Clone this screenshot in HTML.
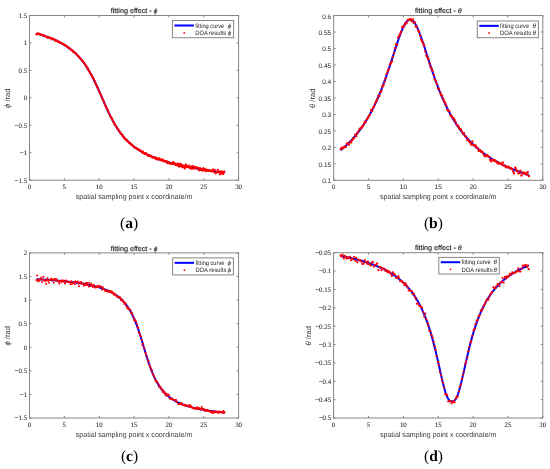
<!DOCTYPE html>
<html><head><meta charset="utf-8"><style>
html,body{margin:0;padding:0;background:#fff;}
svg{display:block;}
text{font-family:"Liberation Sans",Arial,sans-serif;fill:#262626;text-rendering:geometricPrecision;}
.tk{font-family:"Liberation Serif","Times New Roman",serif;font-size:6.9px;fill:#222;stroke:#222;stroke-width:0.06px;}
.tks{font-size:6.6px;fill:#262626;}
.ti{font-size:7.2px;fill:#1e1e1e;stroke:#1e1e1e;stroke-width:0.15px;}
.sy{font-size:6.6px;}
.xl{font-size:7.3px;fill:#3a3a3a;}
.yl{font-size:7.6px;}
.lg{font-size:6.3px;fill:#222;}
.it{font-style:italic;}
.cap{font-family:"Liberation Serif","Times New Roman",serif;font-size:15.5px;fill:#000;}
</style></head><body>
<svg width="550" height="469" viewBox="0 0 550 469">
<rect width="550" height="469" fill="#fff"/>
<g>
<g><path d="M36.47 33.44 L36.94 33.57 L37.41 33.71 L37.88 33.84 L38.36 33.98 L38.83 34.12 L39.30 34.26 L39.77 34.41 L40.24 34.55 L40.71 34.70 L41.19 34.85 L41.66 34.99 L42.13 35.15 L42.60 35.30 L43.07 35.45 L43.54 35.61 L44.02 35.77 L44.49 35.92 L44.96 36.09 L45.43 36.25 L45.90 36.41 L46.37 36.58 L46.85 36.75 L47.32 36.92 L47.79 37.09 L48.26 37.27 L48.73 37.44 L49.20 37.62 L49.68 37.81 L50.15 37.99 L50.62 38.18 L51.09 38.36 L51.56 38.56 L52.03 38.75 L52.51 38.95 L52.98 39.14 L53.45 39.35 L53.92 39.55 L54.39 39.76 L54.86 39.97 L55.34 40.18 L55.81 40.40 L56.28 40.62 L56.75 40.84 L57.22 41.06 L57.69 41.29 L58.17 41.52 L58.64 41.76 L59.11 42.00 L59.58 42.24 L60.05 42.49 L60.52 42.74 L61.00 42.99 L61.47 43.25 L61.94 43.51 L62.41 43.78 L62.88 44.05 L63.35 44.33 L63.83 44.61 L64.30 44.89 L64.77 45.18 L65.24 45.48 L65.71 45.78 L66.18 46.08 L66.66 46.39 L67.13 46.71 L67.60 47.03 L68.07 47.36 L68.54 47.69 L69.01 48.03 L69.49 48.37 L69.96 48.73 L70.43 49.08 L70.90 49.45 L71.37 49.82 L71.84 50.20 L72.32 50.59 L72.79 50.98 L73.26 51.38 L73.73 51.79 L74.20 52.21 L74.67 52.63 L75.15 53.07 L75.62 53.51 L76.09 53.96 L76.56 54.42 L77.03 54.89 L77.50 55.37 L77.98 55.86 L78.45 56.36 L78.92 56.87 L79.39 57.40 L79.86 57.93 L80.33 58.47 L80.81 59.03 L81.28 59.59 L81.75 60.17 L82.22 60.76 L82.69 61.37 L83.16 61.98 L83.64 62.61 L84.11 63.25 L84.58 63.91 L85.05 64.58 L85.52 65.26 L85.99 65.96 L86.47 66.67 L86.94 67.40 L87.41 68.14 L87.88 68.89 L88.35 69.66 L88.82 70.45 L89.30 71.25 L89.77 72.06 L90.24 72.89 L90.71 73.74 L91.18 74.60 L91.65 75.48 L92.13 76.37 L92.60 77.27 L93.07 78.19 L93.54 79.13 L94.01 80.08 L94.48 81.04 L94.96 82.01 L95.43 83.00 L95.90 84.00 L96.37 85.01 L96.84 86.03 L97.31 87.06 L97.79 88.11 L98.26 89.16 L98.73 90.21 L99.20 91.28 L99.67 92.35 L100.14 93.42 L100.61 94.50 L101.09 95.59 L101.56 96.67 L102.03 97.76 L102.50 98.84 L102.97 99.93 L103.44 101.01 L103.92 102.09 L104.39 103.16 L104.86 104.23 L105.33 105.30 L105.80 106.35 L106.27 107.40 L106.75 108.44 L107.22 109.47 L107.69 110.50 L108.16 111.51 L108.63 112.50 L109.10 113.49 L109.58 114.46 L110.05 115.43 L110.52 116.37 L110.99 117.31 L111.46 118.23 L111.93 119.13 L112.41 120.02 L112.88 120.90 L113.35 121.76 L113.82 122.60 L114.29 123.43 L114.76 124.25 L115.24 125.05 L115.71 125.83 L116.18 126.60 L116.65 127.35 L117.12 128.09 L117.59 128.82 L118.07 129.53 L118.54 130.23 L119.01 130.91 L119.48 131.58 L119.95 132.23 L120.42 132.87 L120.90 133.50 L121.37 134.12 L121.84 134.72 L122.31 135.31 L122.78 135.89 L123.25 136.45 L123.73 137.01 L124.20 137.55 L124.67 138.08 L125.14 138.60 L125.61 139.11 L126.08 139.61 L126.56 140.10 L127.03 140.58 L127.50 141.05 L127.97 141.51 L128.44 141.96 L128.91 142.41 L129.39 142.84 L129.86 143.26 L130.33 143.68 L130.80 144.09 L131.27 144.49 L131.74 144.88 L132.22 145.27 L132.69 145.65 L133.16 146.02 L133.63 146.38 L134.10 146.74 L134.57 147.09 L135.05 147.44 L135.52 147.78 L135.99 148.11 L136.46 148.44 L136.93 148.76 L137.40 149.07 L137.88 149.38 L138.35 149.69 L138.82 149.99 L139.29 150.28 L139.76 150.57 L140.23 150.85 L140.71 151.13 L141.18 151.41 L141.65 151.68 L142.12 151.95 L142.59 152.21 L143.06 152.47 L143.54 152.72 L144.01 152.97 L144.48 153.22 L144.95 153.46 L145.42 153.70 L145.89 153.94 L146.37 154.17 L146.84 154.40 L147.31 154.62 L147.78 154.84 L148.25 155.06 L148.72 155.28 L149.20 155.49 L149.67 155.70 L150.14 155.91 L150.61 156.11 L151.08 156.31 L151.55 156.51 L152.03 156.71 L152.50 156.90 L152.97 157.09 L153.44 157.28 L153.91 157.47 L154.38 157.65 L154.86 157.83 L155.33 158.01 L155.80 158.19 L156.27 158.36 L156.74 158.54 L157.21 158.71 L157.69 158.88 L158.16 159.04 L158.63 159.21 L159.10 159.37 L159.57 159.53 L160.04 159.69 L160.52 159.85 L160.99 160.00 L161.46 160.16 L161.93 160.31 L162.40 160.46 L162.87 160.61 L163.34 160.76 L163.82 160.90 L164.29 161.05 L164.76 161.19 L165.23 161.33 L165.70 161.47 L166.17 161.61 L166.65 161.75 L167.12 161.88 L167.59 162.02 L168.06 162.15 L168.53 162.28 L169.00 162.41 L169.48 162.54 L169.95 162.67 L170.42 162.80 L170.89 162.92 L171.36 163.05 L171.83 163.17 L172.31 163.29 L172.78 163.42 L173.25 163.54 L173.72 163.66 L174.19 163.77 L174.66 163.89 L175.14 164.01 L175.61 164.12 L176.08 164.24 L176.55 164.35 L177.02 164.46 L177.49 164.58 L177.97 164.69 L178.44 164.80 L178.91 164.90 L179.38 165.01 L179.85 165.12 L180.32 165.23 L180.80 165.33 L181.27 165.44 L181.74 165.54 L182.21 165.64 L182.68 165.75 L183.15 165.85 L183.63 165.95 L184.10 166.05 L184.57 166.15 L185.04 166.25 L185.51 166.35 L185.98 166.45 L186.46 166.54 L186.93 166.64 L187.40 166.73 L187.87 166.83 L188.34 166.92 L188.81 167.02 L189.29 167.11 L189.76 167.20 L190.23 167.29 L190.70 167.39 L191.17 167.48 L191.64 167.57 L192.12 167.66 L192.59 167.75 L193.06 167.83 L193.53 167.92 L194.00 168.01 L194.47 168.10 L194.95 168.18 L195.42 168.27 L195.89 168.35 L196.36 168.44 L196.83 168.52 L197.30 168.61 L197.78 168.69 L198.25 168.77 L198.72 168.86 L199.19 168.94 L199.66 169.02 L200.13 169.10 L200.61 169.18 L201.08 169.26 L201.55 169.34 L202.02 169.42 L202.49 169.50 L202.96 169.58 L203.44 169.66 L203.91 169.74 L204.38 169.81 L204.85 169.89 L205.32 169.97 L205.79 170.05 L206.27 170.12 L206.74 170.20 L207.21 170.27 L207.68 170.35 L208.15 170.42 L208.62 170.50 L209.10 170.57 L209.57 170.64 L210.04 170.72 L210.51 170.79 L210.98 170.86 L211.45 170.94 L211.93 171.01 L212.40 171.08 L212.87 171.15 L213.34 171.22 L213.81 171.29 L214.28 171.36 L214.76 171.43 L215.23 171.50 L215.70 171.57 L216.17 171.64 L216.64 171.71 L217.11 171.78 L217.59 171.85 L218.06 171.92 L218.53 171.98 L219.00 172.05 L219.47 172.12 L219.94 172.19 L220.42 172.25 L220.89 172.32 L221.36 172.39 L221.83 172.45 L222.30 172.52 L222.77 172.58 L223.25 172.65 L223.72 172.71 L224.19 172.78 L224.66 172.84" fill="none" stroke="#0000ff" stroke-width="2.00" stroke-linejoin="round"/>
<path d="M36.37 34.32h0M37.03 33.64h0M37.61 34.05h0M38.01 33.68h0M38.60 34.11h0M39.38 33.65h0M39.70 34.08h0M40.27 34.27h0M41.06 34.74h0M41.52 34.97h0M42.01 34.99h0M42.61 34.87h0M43.21 35.32h0M43.66 35.76h0M44.18 35.40h0M44.91 36.01h0M45.44 36.28h0M45.95 36.69h0M46.60 36.85h0M47.08 37.04h0M47.76 38.00h0M48.10 36.87h0M48.75 37.27h0M49.29 37.73h0M49.81 37.51h0M50.44 37.96h0M50.89 38.16h0M51.61 39.39h0M52.19 38.89h0M52.54 38.78h0M53.19 38.70h0M53.69 38.84h0M54.20 39.20h0M54.98 40.40h0M55.41 40.94h0M55.89 40.25h0M56.59 40.75h0M57.02 40.65h0M57.77 41.37h0M58.14 41.44h0M58.64 42.26h0M59.25 41.92h0M59.85 42.53h0M60.44 42.58h0M61.12 42.91h0M61.62 43.37h0M62.07 43.49h0M62.54 43.86h0M63.14 43.95h0M63.93 44.51h0M64.34 45.10h0M64.96 45.50h0M65.34 44.97h0M65.89 45.93h0M66.68 46.08h0M67.16 46.60h0M67.64 47.24h0M68.20 47.70h0M68.70 47.76h0M69.28 48.14h0M69.79 48.40h0M70.58 49.62h0M71.03 49.75h0M71.49 49.95h0M72.22 49.98h0M72.63 51.62h0M73.15 51.14h0M73.86 52.08h0M74.50 52.33h0M74.81 52.92h0M75.59 53.36h0M75.97 53.33h0M76.50 54.25h0M77.04 54.76h0M77.67 55.43h0M78.35 56.51h0M78.85 56.62h0M79.50 57.59h0M79.88 58.22h0M80.47 58.64h0M81.01 59.35h0M81.77 59.95h0M82.32 60.90h0M82.71 61.56h0M83.29 61.67h0M83.81 62.53h0M84.49 63.37h0M84.85 64.09h0M85.42 65.15h0M86.07 66.21h0M86.58 66.94h0M87.31 67.66h0M87.84 68.78h0M88.34 70.13h0M88.93 70.64h0M89.50 72.06h0M90.08 72.56h0M90.68 74.08h0M91.02 74.72h0M91.71 75.54h0M92.13 76.41h0M92.77 78.17h0M93.43 78.65h0M94.01 79.36h0M94.53 81.63h0M94.89 81.27h0M95.54 83.46h0M96.04 84.47h0M96.83 86.07h0M97.15 87.19h0M97.73 87.56h0M98.32 89.14h0M98.80 90.62h0M99.58 92.24h0M100.07 93.77h0M100.50 94.35h0M101.15 95.42h0M101.59 97.32h0M102.30 98.52h0M102.75 99.36h0M103.25 100.22h0M103.83 101.44h0M104.51 103.60h0M105.09 105.01h0M105.56 105.66h0M106.21 107.38h0M106.69 108.42h0M107.18 109.03h0M107.79 110.14h0M108.37 111.86h0M109.07 113.49h0M109.41 113.92h0M109.96 115.89h0M110.65 116.63h0M111.32 118.31h0M111.86 118.16h0M112.36 119.68h0M112.74 120.59h0M113.50 122.10h0M114.03 123.84h0M114.43 123.43h0M115.08 124.21h0M115.52 125.78h0M116.29 126.54h0M116.83 127.37h0M117.41 129.08h0M117.95 129.03h0M118.37 129.50h0M119.08 130.92h0M119.48 131.60h0M120.01 132.02h0M120.64 133.72h0M121.22 133.90h0M121.72 134.18h0M122.37 135.84h0M122.93 135.69h0M123.38 136.76h0M124.05 138.16h0M124.53 137.97h0M125.19 139.03h0M125.63 139.01h0M126.33 140.32h0M126.78 139.92h0M127.37 141.22h0M127.96 141.36h0M128.48 142.23h0M128.96 142.58h0M129.72 142.66h0M130.03 143.33h0M130.66 144.13h0M131.28 145.02h0M131.69 144.35h0M132.28 145.01h0M133.02 146.05h0M133.57 146.23h0M134.09 147.18h0M134.72 147.65h0M135.24 147.95h0M135.67 147.72h0M136.32 148.20h0M136.79 149.01h0M137.47 148.77h0M137.92 149.04h0M138.41 149.65h0M139.17 149.70h0M139.68 150.66h0M140.25 150.92h0M140.76 150.93h0M141.38 151.54h0M141.84 151.38h0M142.43 152.78h0M142.85 151.60h0M143.54 153.15h0M144.17 153.15h0M144.70 154.09h0M145.29 153.30h0M145.76 153.15h0M146.42 153.58h0M146.77 153.88h0M147.54 155.64h0M147.95 155.39h0M148.43 155.42h0M149.14 156.03h0M149.65 155.00h0M150.20 155.82h0M150.88 156.24h0M151.23 156.07h0M151.93 157.28h0M152.43 157.46h0M153.02 157.69h0M153.57 157.00h0M154.02 157.28h0M154.68 157.38h0M155.34 157.28h0M155.70 159.08h0M156.22 158.73h0M156.79 158.45h0M157.46 159.75h0M158.16 159.42h0M158.46 158.42h0M159.28 158.63h0M159.71 158.80h0M160.15 159.69h0M160.79 160.10h0M161.29 159.30h0M161.99 160.61h0M162.50 160.24h0M162.99 159.64h0M163.53 161.09h0M164.26 161.51h0M164.79 161.21h0M165.26 160.88h0M165.81 161.13h0M166.46 161.57h0M167.08 161.44h0M167.39 163.22h0M167.97 162.80h0M168.58 162.17h0M169.18 163.20h0M169.62 163.65h0M170.17 163.70h0M170.77 163.63h0M171.38 163.20h0M172.03 164.05h0M172.56 163.17h0M172.95 162.08h0M173.51 163.72h0M174.18 162.73h0M174.86 163.70h0M175.43 165.00h0M175.83 164.39h0M176.54 165.16h0M177.10 163.85h0M177.52 165.53h0M178.17 163.64h0M178.62 164.36h0M179.12 166.63h0M179.79 164.45h0M180.22 163.91h0M180.93 166.02h0M181.53 164.67h0M182.12 167.13h0M182.55 165.51h0M183.01 167.21h0M183.79 165.58h0M184.34 167.60h0M184.92 168.44h0M185.38 165.99h0M185.96 164.51h0M186.43 167.04h0M186.93 165.94h0M187.52 166.66h0M188.20 167.17h0M188.65 166.46h0M189.31 165.72h0M189.81 168.26h0M190.35 166.84h0M191.06 167.16h0M191.39 168.73h0M192.04 166.27h0M192.50 166.07h0M193.28 168.68h0M193.71 166.48h0M194.22 168.00h0M194.74 168.28h0M195.41 166.99h0M195.92 168.17h0M196.40 168.17h0M196.93 167.25h0M197.59 167.56h0M198.20 168.00h0M198.74 170.05h0M199.40 170.32h0M199.96 168.11h0M200.53 169.96h0M201.05 169.13h0M201.51 170.25h0M202.08 169.59h0M202.61 170.61h0M203.16 168.22h0M203.62 170.56h0M204.39 169.92h0M204.79 170.04h0M205.29 168.93h0M205.97 171.29h0M206.60 170.20h0M207.08 170.43h0M207.62 169.88h0M208.25 170.04h0M208.67 170.90h0M209.19 170.38h0M209.91 171.02h0M210.45 170.38h0M211.10 170.97h0M211.53 171.51h0M212.19 171.07h0M212.54 170.79h0M213.10 169.25h0M213.81 171.71h0M214.27 171.10h0M214.78 170.19h0M215.36 173.30h0M215.98 173.11h0M216.53 172.71h0M217.15 171.88h0M217.80 169.79h0M218.21 171.60h0M218.72 170.98h0M219.38 172.30h0M219.78 174.27h0M220.45 174.24h0M220.98 171.46h0M221.56 172.26h0M222.03 173.59h0M222.72 171.62h0M223.30 173.97h0M223.89 171.77h0M224.51 171.58h0" stroke="#ff0000" stroke-width="2.20" stroke-linecap="round"/>
<rect x="29.50" y="15.50" width="209.10" height="164.70" fill="none" stroke="#858585" stroke-width="1.00"/>
<path d="M29.50 180.20v-2.00M29.50 15.50v2.00M64.35 180.20v-2.00M64.35 15.50v2.00M99.20 180.20v-2.00M99.20 15.50v2.00M134.05 180.20v-2.00M134.05 15.50v2.00M168.90 180.20v-2.00M168.90 15.50v2.00M203.75 180.20v-2.00M203.75 15.50v2.00M238.60 180.20v-2.00M238.60 15.50v2.00M29.50 180.20h2.00M238.60 180.20h-2.00M29.50 152.75h2.00M238.60 152.75h-2.00M29.50 125.30h2.00M238.60 125.30h-2.00M29.50 97.85h2.00M238.60 97.85h-2.00M29.50 70.40h2.00M238.60 70.40h-2.00M29.50 42.95h2.00M238.60 42.95h-2.00M29.50 15.50h2.00M238.60 15.50h-2.00" stroke="#858585" stroke-width="1.00" fill="none"/>
<text class="tk" x="29.50" y="189.30" text-anchor="middle">0</text>
<text class="tk" x="64.35" y="189.30" text-anchor="middle">5</text>
<text class="tk" x="99.20" y="189.30" text-anchor="middle">10</text>
<text class="tk" x="134.05" y="189.30" text-anchor="middle">15</text>
<text class="tk" x="168.90" y="189.30" text-anchor="middle">20</text>
<text class="tk" x="203.75" y="189.30" text-anchor="middle">25</text>
<text class="tk" x="238.60" y="189.30" text-anchor="middle">30</text>
<text class="tk" x="27.10" y="182.60" text-anchor="end">−1.5</text>
<text class="tk" x="27.10" y="155.15" text-anchor="end">−1</text>
<text class="tk" x="27.10" y="127.70" text-anchor="end">−0.5</text>
<text class="tk" x="27.10" y="100.25" text-anchor="end">0</text>
<text class="tk" x="27.10" y="72.80" text-anchor="end">0.5</text>
<text class="tk" x="27.10" y="45.35" text-anchor="end">1</text>
<text class="tk" x="27.10" y="17.90" text-anchor="end">1.5</text>
<text class="ti" x="134.05" y="13.10" text-anchor="middle">fitting effect - <tspan class="it sy">ϕ</tspan></text>
<text class="xl" x="134.05" y="199.20" text-anchor="middle" textLength="116.5" lengthAdjust="spacingAndGlyphs">spatial sampling point x coordinate/m</text>
<text class="xl yl" transform="translate(10.10 98.25) rotate(-90)" text-anchor="middle"><tspan class="it">ϕ</tspan> /rad</text>
<rect x="172.40" y="20.50" width="61.20" height="17.20" fill="#fff" stroke="#858585" stroke-width="1.00"/>
<path d="M174.40 25.49H193.90" stroke="#0000ff" stroke-width="2.00"/>
<circle cx="184.20" cy="32.88" r="0.90" fill="#ff0000"/>
<text class="lg" x="195.20" y="27.69" textLength="29" lengthAdjust="spacingAndGlyphs">fitting curve</text>
<text class="lg" x="195.20" y="35.08" textLength="31" lengthAdjust="spacingAndGlyphs">DOA results</text>
<text class="lg it" x="229.40" y="27.69" text-anchor="middle">ϕ</text>
<text class="lg it" x="229.40" y="35.08" text-anchor="middle">ϕ</text>
<text class="cap" x="129.10" y="227.60" text-anchor="middle">(<tspan font-weight="bold">a</tspan>)</text></g>
<g><path d="M340.67 150.18 L341.14 149.80 L341.61 149.41 L342.08 149.02 L342.56 148.62 L343.03 148.21 L343.50 147.81 L343.97 147.40 L344.44 146.98 L344.91 146.56 L345.39 146.13 L345.86 145.70 L346.33 145.26 L346.80 144.82 L347.27 144.37 L347.74 143.91 L348.22 143.46 L348.69 142.99 L349.16 142.52 L349.63 142.04 L350.10 141.56 L350.57 141.07 L351.05 140.58 L351.52 140.08 L351.99 139.57 L352.46 139.06 L352.93 138.54 L353.40 138.01 L353.88 137.48 L354.35 136.93 L354.82 136.39 L355.29 135.83 L355.76 135.27 L356.23 134.70 L356.71 134.12 L357.18 133.54 L357.65 132.95 L358.12 132.35 L358.59 131.74 L359.06 131.12 L359.54 130.50 L360.01 129.86 L360.48 129.22 L360.95 128.57 L361.42 127.91 L361.89 127.24 L362.37 126.56 L362.84 125.87 L363.31 125.18 L363.78 124.47 L364.25 123.75 L364.72 123.02 L365.20 122.29 L365.67 121.54 L366.14 120.78 L366.61 120.01 L367.08 119.23 L367.55 118.44 L368.03 117.64 L368.50 116.82 L368.97 116.00 L369.44 115.16 L369.91 114.31 L370.38 113.45 L370.86 112.58 L371.33 111.69 L371.80 110.79 L372.27 109.88 L372.74 108.95 L373.21 108.02 L373.69 107.06 L374.16 106.10 L374.63 105.12 L375.10 104.13 L375.57 103.12 L376.04 102.10 L376.52 101.06 L376.99 100.01 L377.46 98.95 L377.93 97.87 L378.40 96.78 L378.87 95.67 L379.35 94.54 L379.82 93.40 L380.29 92.25 L380.76 91.08 L381.23 89.89 L381.70 88.69 L382.18 87.48 L382.65 86.25 L383.12 85.00 L383.59 83.74 L384.06 82.47 L384.53 81.18 L385.01 79.88 L385.48 78.56 L385.95 77.22 L386.42 75.88 L386.89 74.52 L387.36 73.15 L387.84 71.76 L388.31 70.37 L388.78 68.96 L389.25 67.54 L389.72 66.12 L390.19 64.68 L390.67 63.24 L391.14 61.79 L391.61 60.33 L392.08 58.87 L392.55 57.40 L393.02 55.93 L393.50 54.47 L393.97 53.00 L394.44 51.53 L394.91 50.07 L395.38 48.61 L395.85 47.17 L396.33 45.73 L396.80 44.30 L397.27 42.89 L397.74 41.49 L398.21 40.11 L398.68 38.76 L399.16 37.42 L399.63 36.12 L400.10 34.84 L400.57 33.60 L401.04 32.39 L401.51 31.22 L401.99 30.09 L402.46 29.00 L402.93 27.96 L403.40 26.97 L403.87 26.03 L404.34 25.14 L404.81 24.32 L405.29 23.55 L405.76 22.85 L406.23 22.21 L406.70 21.64 L407.17 21.13 L407.64 20.70 L408.12 20.34 L408.59 20.05 L409.06 19.84 L409.53 19.70 L410.00 19.63 L410.47 19.65 L410.95 19.73 L411.42 19.90 L411.89 20.14 L412.36 20.45 L412.83 20.83 L413.30 21.29 L413.78 21.82 L414.25 22.41 L414.72 23.07 L415.19 23.80 L415.66 24.58 L416.13 25.43 L416.61 26.33 L417.08 27.29 L417.55 28.30 L418.02 29.35 L418.49 30.46 L418.96 31.60 L419.44 32.78 L419.91 34.01 L420.38 35.26 L420.85 36.55 L421.32 37.86 L421.79 39.20 L422.27 40.57 L422.74 41.95 L423.21 43.35 L423.68 44.77 L424.15 46.20 L424.62 47.64 L425.10 49.10 L425.57 50.55 L426.04 52.02 L426.51 53.48 L426.98 54.95 L427.45 56.42 L427.93 57.89 L428.40 59.35 L428.87 60.81 L429.34 62.27 L429.81 63.72 L430.28 65.16 L430.76 66.59 L431.23 68.01 L431.70 69.43 L432.17 70.83 L432.64 72.22 L433.11 73.60 L433.59 74.97 L434.06 76.33 L434.53 77.67 L435.00 78.99 L435.47 80.31 L435.94 81.61 L436.42 82.89 L436.89 84.16 L437.36 85.42 L437.83 86.66 L438.30 87.88 L438.77 89.09 L439.25 90.29 L439.72 91.47 L440.19 92.63 L440.66 93.78 L441.13 94.92 L441.60 96.04 L442.08 97.14 L442.55 98.23 L443.02 99.30 L443.49 100.36 L443.96 101.41 L444.43 102.44 L444.91 103.46 L445.38 104.46 L445.85 105.45 L446.32 106.42 L446.79 107.38 L447.26 108.33 L447.74 109.26 L448.21 110.18 L448.68 111.09 L449.15 111.99 L449.62 112.87 L450.09 113.74 L450.57 114.59 L451.04 115.44 L451.51 116.27 L451.98 117.09 L452.45 117.90 L452.92 118.70 L453.40 119.49 L453.87 120.27 L454.34 121.03 L454.81 121.79 L455.28 122.53 L455.75 123.27 L456.23 123.99 L456.70 124.70 L457.17 125.41 L457.64 126.10 L458.11 126.79 L458.58 127.46 L459.06 128.13 L459.53 128.78 L460.00 129.43 L460.47 130.07 L460.94 130.70 L461.41 131.33 L461.89 131.94 L462.36 132.55 L462.83 133.14 L463.30 133.73 L463.77 134.32 L464.24 134.89 L464.72 135.46 L465.19 136.02 L465.66 136.57 L466.13 137.11 L466.60 137.65 L467.07 138.18 L467.54 138.71 L468.02 139.23 L468.49 139.74 L468.96 140.24 L469.43 140.74 L469.90 141.24 L470.37 141.72 L470.85 142.20 L471.32 142.68 L471.79 143.15 L472.26 143.61 L472.73 144.07 L473.20 144.52 L473.68 144.96 L474.15 145.40 L474.62 145.84 L475.09 146.27 L475.56 146.70 L476.03 147.12 L476.51 147.53 L476.98 147.94 L477.45 148.35 L477.92 148.75 L478.39 149.15 L478.86 149.54 L479.34 149.93 L479.81 150.31 L480.28 150.69 L480.75 151.06 L481.22 151.43 L481.69 151.80 L482.17 152.16 L482.64 152.52 L483.11 152.87 L483.58 153.22 L484.05 153.57 L484.52 153.91 L485.00 154.25 L485.47 154.59 L485.94 154.92 L486.41 155.25 L486.88 155.57 L487.35 155.89 L487.83 156.21 L488.30 156.53 L488.77 156.84 L489.24 157.14 L489.71 157.45 L490.18 157.75 L490.66 158.05 L491.13 158.34 L491.60 158.64 L492.07 158.93 L492.54 159.21 L493.01 159.50 L493.49 159.78 L493.96 160.06 L494.43 160.33 L494.90 160.60 L495.37 160.87 L495.84 161.14 L496.32 161.41 L496.79 161.67 L497.26 161.93 L497.73 162.18 L498.20 162.44 L498.67 162.69 L499.15 162.94 L499.62 163.19 L500.09 163.43 L500.56 163.68 L501.03 163.92 L501.50 164.15 L501.98 164.39 L502.45 164.62 L502.92 164.86 L503.39 165.09 L503.86 165.31 L504.33 165.54 L504.81 165.76 L505.28 165.98 L505.75 166.20 L506.22 166.42 L506.69 166.64 L507.16 166.85 L507.64 167.06 L508.11 167.27 L508.58 167.48 L509.05 167.68 L509.52 167.89 L509.99 168.09 L510.47 168.29 L510.94 168.49 L511.41 168.69 L511.88 168.88 L512.35 169.08 L512.82 169.27 L513.30 169.46 L513.77 169.65 L514.24 169.84 L514.71 170.02 L515.18 170.21 L515.65 170.39 L516.13 170.57 L516.60 170.75 L517.07 170.93 L517.54 171.11 L518.01 171.28 L518.48 171.46 L518.96 171.63 L519.43 171.80 L519.90 171.97 L520.37 172.14 L520.84 172.31 L521.31 172.47 L521.79 172.64 L522.26 172.80 L522.73 172.97 L523.20 173.13 L523.67 173.29 L524.14 173.44 L524.62 173.60 L525.09 173.76 L525.56 173.91 L526.03 174.07 L526.50 174.22 L526.97 174.37 L527.45 174.52 L527.92 174.67 L528.39 174.82 L528.86 174.96" fill="none" stroke="#0000ff" stroke-width="2.00" stroke-linejoin="round"/>
<path d="M340.73 149.03h0M341.64 147.61h0M342.86 148.03h0M343.76 147.20h0M344.74 146.61h0M345.77 147.05h0M346.93 143.52h0M348.03 143.91h0M348.97 144.52h0M350.17 141.64h0M351.06 142.39h0M352.27 140.33h0M353.09 138.34h0M354.20 138.08h0M355.21 134.79h0M356.34 136.12h0M357.36 133.03h0M358.41 131.37h0M359.59 128.88h0M360.56 128.13h0M361.61 127.39h0M362.59 126.13h0M363.76 124.56h0M364.72 121.82h0M365.83 121.96h0M366.92 118.94h0M367.88 117.97h0M368.88 115.89h0M369.88 114.64h0M371.10 109.85h0M372.11 110.88h0M373.16 107.84h0M374.05 106.02h0M375.15 103.36h0M376.32 101.00h0M377.19 99.09h0M378.40 95.74h0M379.36 96.07h0M380.32 92.15h0M381.41 90.73h0M382.37 86.71h0M383.58 85.00h0M384.64 81.87h0M385.50 78.56h0M386.62 73.83h0M387.79 71.27h0M388.68 68.93h0M389.82 64.33h0M390.94 63.38h0M391.92 61.56h0M392.84 56.94h0M394.10 52.85h0M395.10 48.15h0M396.10 44.14h0M397.08 44.84h0M398.20 37.53h0M399.19 35.67h0M400.16 33.79h0M401.20 31.58h0M402.23 26.95h0M403.31 27.06h0M404.37 25.57h0M405.53 23.02h0M406.56 23.23h0M407.61 20.22h0M408.72 20.08h0M409.56 19.33h0M410.69 19.28h0M411.65 21.11h0M412.79 19.39h0M413.74 22.83h0M414.78 22.21h0M415.84 26.55h0M416.96 26.64h0M418.11 30.41h0M419.02 31.68h0M420.20 35.44h0M421.10 39.52h0M422.16 41.42h0M423.26 43.41h0M424.19 45.65h0M425.34 51.39h0M426.42 55.44h0M427.54 57.58h0M428.37 59.47h0M429.62 63.78h0M430.60 66.96h0M431.65 68.37h0M432.55 70.91h0M433.83 74.86h0M434.70 79.13h0M435.82 81.18h0M436.87 84.30h0M438.02 88.63h0M438.98 88.66h0M440.13 92.38h0M440.96 95.01h0M442.13 95.75h0M443.15 98.78h0M444.18 100.96h0M445.26 102.92h0M446.28 105.56h0M447.27 109.65h0M448.40 110.94h0M449.29 111.17h0M450.44 115.17h0M451.48 116.17h0M452.46 117.48h0M453.60 118.30h0M454.68 120.19h0M455.57 122.02h0M456.66 124.84h0M457.64 125.13h0M458.84 127.25h0M459.74 129.24h0M460.83 129.10h0M461.93 131.47h0M462.98 134.12h0M463.91 133.13h0M465.21 136.30h0M466.05 136.39h0M467.21 139.93h0M468.14 139.37h0M469.29 141.58h0M470.27 142.63h0M471.31 144.67h0M472.40 141.47h0M473.47 144.92h0M474.52 145.49h0M475.59 145.54h0M476.52 147.66h0M477.52 147.85h0M478.61 150.75h0M479.67 149.98h0M480.80 151.52h0M481.79 151.33h0M482.81 152.44h0M483.79 154.83h0M484.98 156.18h0M485.89 155.94h0M487.04 154.90h0M488.14 155.96h0M489.17 156.66h0M490.08 159.81h0M491.18 161.21h0M492.39 159.77h0M493.20 159.95h0M494.41 160.95h0M495.39 160.50h0M496.48 161.67h0M497.47 163.28h0M498.44 163.49h0M499.60 163.02h0M500.49 163.56h0M501.78 164.37h0M502.81 162.41h0M503.73 165.52h0M504.82 165.64h0M505.87 167.30h0M507.04 167.17h0M507.82 166.59h0M508.94 167.04h0M510.02 168.26h0M511.17 168.17h0M512.20 168.96h0M513.16 171.39h0M514.09 173.23h0M515.31 167.82h0M516.29 169.76h0M517.25 171.06h0M518.44 173.28h0M519.44 173.15h0M520.44 170.74h0M521.48 175.47h0M522.59 173.26h0M523.56 172.33h0M524.65 173.46h0M525.85 173.21h0M526.76 174.44h0M527.75 172.09h0M528.87 176.05h0" stroke="#ff0000" stroke-width="2.40" stroke-linecap="round"/>
<rect x="333.70" y="15.50" width="209.10" height="164.80" fill="none" stroke="#858585" stroke-width="1.00"/>
<path d="M333.70 180.30v-2.00M333.70 15.50v2.00M368.55 180.30v-2.00M368.55 15.50v2.00M403.40 180.30v-2.00M403.40 15.50v2.00M438.25 180.30v-2.00M438.25 15.50v2.00M473.10 180.30v-2.00M473.10 15.50v2.00M507.95 180.30v-2.00M507.95 15.50v2.00M542.80 180.30v-2.00M542.80 15.50v2.00M333.70 180.30h2.00M542.80 180.30h-2.00M333.70 163.82h2.00M542.80 163.82h-2.00M333.70 147.34h2.00M542.80 147.34h-2.00M333.70 130.86h2.00M542.80 130.86h-2.00M333.70 114.38h2.00M542.80 114.38h-2.00M333.70 97.90h2.00M542.80 97.90h-2.00M333.70 81.42h2.00M542.80 81.42h-2.00M333.70 64.94h2.00M542.80 64.94h-2.00M333.70 48.46h2.00M542.80 48.46h-2.00M333.70 31.98h2.00M542.80 31.98h-2.00M333.70 15.50h2.00M542.80 15.50h-2.00" stroke="#858585" stroke-width="1.00" fill="none"/>
<text class="tks" x="333.70" y="189.40" text-anchor="middle">0</text>
<text class="tks" x="368.55" y="189.40" text-anchor="middle">5</text>
<text class="tks" x="403.40" y="189.40" text-anchor="middle">10</text>
<text class="tks" x="438.25" y="189.40" text-anchor="middle">15</text>
<text class="tks" x="473.10" y="189.40" text-anchor="middle">20</text>
<text class="tks" x="507.95" y="189.40" text-anchor="middle">25</text>
<text class="tks" x="542.80" y="189.40" text-anchor="middle">30</text>
<text class="tks" x="331.30" y="183.30" text-anchor="end">0.1</text>
<text class="tks" x="331.30" y="166.82" text-anchor="end">0.15</text>
<text class="tks" x="331.30" y="150.34" text-anchor="end">0.2</text>
<text class="tks" x="331.30" y="133.86" text-anchor="end">0.25</text>
<text class="tks" x="331.30" y="117.38" text-anchor="end">0.3</text>
<text class="tks" x="331.30" y="100.90" text-anchor="end">0.35</text>
<text class="tks" x="331.30" y="84.42" text-anchor="end">0.4</text>
<text class="tks" x="331.30" y="67.94" text-anchor="end">0.45</text>
<text class="tks" x="331.30" y="51.46" text-anchor="end">0.5</text>
<text class="tks" x="331.30" y="34.98" text-anchor="end">0.55</text>
<text class="tks" x="331.30" y="18.50" text-anchor="end">0.6</text>
<text class="ti" x="438.25" y="13.10" text-anchor="middle">fitting effect - <tspan class="it sy">θ</tspan></text>
<text class="xl" x="438.25" y="199.30" text-anchor="middle" textLength="116.5" lengthAdjust="spacingAndGlyphs">spatial sampling point x coordinate/m</text>
<text class="xl yl" transform="translate(314.70 98.30) rotate(-90)" text-anchor="middle"><tspan class="it">θ</tspan> /rad</text>
<rect x="477.30" y="21.00" width="61.10" height="16.70" fill="#fff" stroke="#858585" stroke-width="1.00"/>
<path d="M479.30 25.84H498.80" stroke="#0000ff" stroke-width="2.00"/>
<circle cx="489.10" cy="33.02" r="0.90" fill="#ff0000"/>
<text class="lg" x="500.10" y="28.04" textLength="29" lengthAdjust="spacingAndGlyphs">fitting curve</text>
<text class="lg" x="500.10" y="35.22" textLength="31" lengthAdjust="spacingAndGlyphs">DOA results</text>
<text class="lg it" x="534.20" y="28.04" text-anchor="middle">θ</text>
<text class="lg it" x="534.20" y="35.22" text-anchor="middle">θ</text>
<text class="cap" x="433.40" y="227.60" text-anchor="middle">(<tspan font-weight="bold">b</tspan>)</text></g>
<g><path d="M36.47 279.15 L36.94 279.18 L37.41 279.20 L37.88 279.23 L38.36 279.26 L38.83 279.29 L39.30 279.31 L39.77 279.34 L40.24 279.37 L40.71 279.40 L41.19 279.43 L41.66 279.46 L42.13 279.49 L42.60 279.52 L43.07 279.55 L43.54 279.58 L44.02 279.61 L44.49 279.64 L44.96 279.67 L45.43 279.70 L45.90 279.73 L46.37 279.77 L46.85 279.80 L47.32 279.83 L47.79 279.86 L48.26 279.90 L48.73 279.93 L49.20 279.96 L49.68 280.00 L50.15 280.03 L50.62 280.07 L51.09 280.10 L51.56 280.14 L52.03 280.18 L52.51 280.21 L52.98 280.25 L53.45 280.29 L53.92 280.32 L54.39 280.36 L54.86 280.40 L55.34 280.44 L55.81 280.48 L56.28 280.52 L56.75 280.56 L57.22 280.60 L57.69 280.64 L58.17 280.68 L58.64 280.72 L59.11 280.76 L59.58 280.80 L60.05 280.85 L60.52 280.89 L61.00 280.94 L61.47 280.98 L61.94 281.03 L62.41 281.07 L62.88 281.12 L63.35 281.16 L63.83 281.21 L64.30 281.26 L64.77 281.31 L65.24 281.35 L65.71 281.40 L66.18 281.45 L66.66 281.50 L67.13 281.56 L67.60 281.61 L68.07 281.66 L68.54 281.71 L69.01 281.77 L69.49 281.82 L69.96 281.88 L70.43 281.93 L70.90 281.99 L71.37 282.04 L71.84 282.10 L72.32 282.16 L72.79 282.22 L73.26 282.28 L73.73 282.34 L74.20 282.40 L74.67 282.46 L75.15 282.53 L75.62 282.59 L76.09 282.66 L76.56 282.72 L77.03 282.79 L77.50 282.86 L77.98 282.92 L78.45 282.99 L78.92 283.06 L79.39 283.14 L79.86 283.21 L80.33 283.28 L80.81 283.36 L81.28 283.43 L81.75 283.51 L82.22 283.59 L82.69 283.66 L83.16 283.74 L83.64 283.83 L84.11 283.91 L84.58 283.99 L85.05 284.08 L85.52 284.16 L85.99 284.25 L86.47 284.34 L86.94 284.43 L87.41 284.52 L87.88 284.61 L88.35 284.71 L88.82 284.81 L89.30 284.90 L89.77 285.00 L90.24 285.10 L90.71 285.21 L91.18 285.31 L91.65 285.42 L92.13 285.53 L92.60 285.64 L93.07 285.75 L93.54 285.86 L94.01 285.98 L94.48 286.09 L94.96 286.21 L95.43 286.34 L95.90 286.46 L96.37 286.59 L96.84 286.72 L97.31 286.85 L97.79 286.98 L98.26 287.12 L98.73 287.26 L99.20 287.40 L99.67 287.54 L100.14 287.69 L100.61 287.84 L101.09 287.99 L101.56 288.15 L102.03 288.31 L102.50 288.47 L102.97 288.64 L103.44 288.81 L103.92 288.98 L104.39 289.16 L104.86 289.34 L105.33 289.52 L105.80 289.71 L106.27 289.90 L106.75 290.10 L107.22 290.30 L107.69 290.51 L108.16 290.72 L108.63 290.93 L109.10 291.15 L109.58 291.38 L110.05 291.61 L110.52 291.85 L110.99 292.09 L111.46 292.34 L111.93 292.59 L112.41 292.85 L112.88 293.12 L113.35 293.40 L113.82 293.68 L114.29 293.97 L114.76 294.26 L115.24 294.57 L115.71 294.88 L116.18 295.20 L116.65 295.53 L117.12 295.87 L117.59 296.22 L118.07 296.58 L118.54 296.95 L119.01 297.33 L119.48 297.72 L119.95 298.12 L120.42 298.54 L120.90 298.97 L121.37 299.41 L121.84 299.86 L122.31 300.33 L122.78 300.81 L123.25 301.31 L123.73 301.82 L124.20 302.35 L124.67 302.90 L125.14 303.46 L125.61 304.05 L126.08 304.65 L126.56 305.27 L127.03 305.92 L127.50 306.58 L127.97 307.27 L128.44 307.98 L128.91 308.72 L129.39 309.48 L129.86 310.26 L130.33 311.08 L130.80 311.92 L131.27 312.79 L131.74 313.68 L132.22 314.61 L132.69 315.57 L133.16 316.57 L133.63 317.59 L134.10 318.65 L134.57 319.74 L135.05 320.86 L135.52 322.02 L135.99 323.22 L136.46 324.45 L136.93 325.71 L137.40 327.00 L137.88 328.33 L138.35 329.69 L138.82 331.08 L139.29 332.50 L139.76 333.95 L140.23 335.43 L140.71 336.92 L141.18 338.44 L141.65 339.98 L142.12 341.53 L142.59 343.09 L143.06 344.66 L143.54 346.23 L144.01 347.81 L144.48 349.39 L144.95 350.95 L145.42 352.51 L145.89 354.06 L146.37 355.59 L146.84 357.11 L147.31 358.60 L147.78 360.07 L148.25 361.51 L148.72 362.92 L149.20 364.31 L149.67 365.66 L150.14 366.98 L150.61 368.27 L151.08 369.52 L151.55 370.74 L152.03 371.93 L152.50 373.08 L152.97 374.20 L153.44 375.28 L153.91 376.33 L154.38 377.35 L154.86 378.33 L155.33 379.29 L155.80 380.21 L156.27 381.10 L156.74 381.96 L157.21 382.80 L157.69 383.60 L158.16 384.38 L158.63 385.14 L159.10 385.87 L159.57 386.57 L160.04 387.26 L160.52 387.92 L160.99 388.55 L161.46 389.17 L161.93 389.77 L162.40 390.35 L162.87 390.91 L163.34 391.45 L163.82 391.98 L164.29 392.49 L164.76 392.98 L165.23 393.46 L165.70 393.93 L166.17 394.38 L166.65 394.82 L167.12 395.24 L167.59 395.65 L168.06 396.05 L168.53 396.44 L169.00 396.82 L169.48 397.19 L169.95 397.54 L170.42 397.89 L170.89 398.23 L171.36 398.55 L171.83 398.87 L172.31 399.19 L172.78 399.49 L173.25 399.78 L173.72 400.07 L174.19 400.35 L174.66 400.62 L175.14 400.89 L175.61 401.15 L176.08 401.40 L176.55 401.65 L177.02 401.89 L177.49 402.13 L177.97 402.36 L178.44 402.58 L178.91 402.80 L179.38 403.02 L179.85 403.23 L180.32 403.43 L180.80 403.63 L181.27 403.83 L181.74 404.02 L182.21 404.21 L182.68 404.39 L183.15 404.57 L183.63 404.74 L184.10 404.92 L184.57 405.09 L185.04 405.25 L185.51 405.41 L185.98 405.57 L186.46 405.73 L186.93 405.88 L187.40 406.03 L187.87 406.18 L188.34 406.32 L188.81 406.46 L189.29 406.60 L189.76 406.73 L190.23 406.87 L190.70 407.00 L191.17 407.13 L191.64 407.25 L192.12 407.38 L192.59 407.50 L193.06 407.62 L193.53 407.73 L194.00 407.85 L194.47 407.96 L194.95 408.07 L195.42 408.18 L195.89 408.29 L196.36 408.40 L196.83 408.50 L197.30 408.60 L197.78 408.70 L198.25 408.80 L198.72 408.90 L199.19 409.00 L199.66 409.09 L200.13 409.18 L200.61 409.27 L201.08 409.36 L201.55 409.45 L202.02 409.54 L202.49 409.63 L202.96 409.71 L203.44 409.79 L203.91 409.88 L204.38 409.96 L204.85 410.04 L205.32 410.12 L205.79 410.19 L206.27 410.27 L206.74 410.35 L207.21 410.42 L207.68 410.49 L208.15 410.56 L208.62 410.64 L209.10 410.71 L209.57 410.78 L210.04 410.84 L210.51 410.91 L210.98 410.98 L211.45 411.04 L211.93 411.11 L212.40 411.17 L212.87 411.23 L213.34 411.30 L213.81 411.36 L214.28 411.42 L214.76 411.48 L215.23 411.54 L215.70 411.60 L216.17 411.65 L216.64 411.71 L217.11 411.77 L217.59 411.82 L218.06 411.88 L218.53 411.93 L219.00 411.98 L219.47 412.04 L219.94 412.09 L220.42 412.14 L220.89 412.19 L221.36 412.24 L221.83 412.29 L222.30 412.34 L222.77 412.39 L223.25 412.44 L223.72 412.48 L224.19 412.53 L224.66 412.58" fill="none" stroke="#0000ff" stroke-width="2.00" stroke-linejoin="round"/>
<path d="M36.40 280.01h0M37.10 275.40h0M37.78 281.14h0M38.49 279.61h0M39.35 280.81h0M40.04 279.62h0M40.54 279.49h0M41.31 277.49h0M42.11 282.01h0M42.84 279.60h0M43.46 276.85h0M44.20 280.50h0M44.76 279.98h0M45.61 281.17h0M46.32 283.94h0M46.90 279.99h0M47.55 278.06h0M48.19 280.63h0M49.05 282.74h0M49.75 279.64h0M50.27 279.95h0M51.11 278.70h0M51.93 278.91h0M52.37 280.60h0M53.10 279.73h0M53.77 282.79h0M54.57 278.90h0M55.26 280.21h0M56.09 279.10h0M56.56 279.18h0M57.30 280.99h0M58.20 280.89h0M58.64 281.84h0M59.40 283.39h0M60.14 281.04h0M60.73 280.74h0M61.50 282.32h0M62.29 280.22h0M62.99 281.03h0M63.68 280.68h0M64.39 282.19h0M65.08 283.41h0M65.61 280.51h0M66.48 280.81h0M67.16 281.70h0M67.76 282.12h0M68.51 282.04h0M69.16 281.95h0M70.03 282.47h0M70.56 284.18h0M71.23 281.18h0M72.10 283.78h0M72.79 282.60h0M73.51 282.66h0M74.16 282.13h0M74.78 284.22h0M75.50 281.31h0M76.21 282.00h0M76.92 281.98h0M77.72 281.57h0M78.22 283.81h0M79.06 286.37h0M79.55 282.83h0M80.29 281.93h0M81.20 282.23h0M81.71 284.06h0M82.48 283.73h0M83.29 283.48h0M83.91 285.72h0M84.56 284.67h0M85.32 284.78h0M86.09 282.68h0M86.78 285.06h0M87.26 282.92h0M87.95 284.62h0M88.69 286.46h0M89.34 282.70h0M90.21 286.07h0M90.93 284.64h0M91.43 283.68h0M92.11 286.05h0M92.88 286.92h0M93.68 284.87h0M94.40 286.01h0M95.01 287.43h0M95.75 287.48h0M96.53 287.01h0M97.22 285.88h0M97.70 287.24h0M98.56 286.57h0M99.28 285.81h0M100.01 286.41h0M100.57 286.43h0M101.20 286.83h0M101.98 289.85h0M102.65 287.34h0M103.35 288.45h0M104.16 289.19h0M104.82 290.37h0M105.52 291.13h0M106.21 290.95h0M106.77 290.13h0M107.44 291.53h0M108.23 291.53h0M109.06 291.72h0M109.70 290.80h0M110.43 292.09h0M111.08 292.28h0M111.83 291.26h0M112.58 293.26h0M113.20 292.73h0M113.94 294.76h0M114.67 293.89h0M115.30 294.50h0M116.02 294.92h0M116.51 295.88h0M117.19 296.91h0M118.14 296.92h0M118.64 297.48h0M119.36 296.63h0M120.01 297.31h0M120.84 300.06h0M121.37 298.81h0M122.28 300.76h0M122.84 300.44h0M123.66 302.21h0M124.41 303.99h0M125.04 302.38h0M125.66 303.68h0M126.42 306.25h0M127.18 307.92h0M127.84 307.58h0M128.40 309.05h0M129.03 309.25h0M129.97 309.87h0M130.60 310.16h0M131.14 312.88h0M131.97 312.83h0M132.68 314.46h0M133.30 317.27h0M134.16 320.35h0M134.67 319.17h0M135.34 321.02h0M136.09 321.24h0M136.79 323.97h0M137.64 326.93h0M138.28 327.88h0M138.82 332.09h0M139.60 333.25h0M140.21 335.61h0M141.08 336.46h0M141.82 339.98h0M142.30 345.01h0M143.11 343.51h0M143.74 347.76h0M144.45 348.53h0M145.27 352.46h0M146.03 354.27h0M146.53 355.53h0M147.30 358.39h0M147.94 361.44h0M148.56 361.11h0M149.41 364.55h0M149.98 366.56h0M150.83 368.18h0M151.54 371.21h0M152.07 370.25h0M152.90 373.80h0M153.48 375.02h0M154.34 376.90h0M154.90 379.27h0M155.71 381.13h0M156.40 381.11h0M157.07 382.20h0M157.67 382.29h0M158.54 384.55h0M159.10 386.88h0M159.91 386.56h0M160.53 387.14h0M161.22 387.90h0M161.99 389.51h0M162.58 391.70h0M163.40 390.40h0M164.01 392.86h0M164.79 392.45h0M165.47 395.17h0M166.24 393.70h0M166.78 395.66h0M167.46 394.50h0M168.34 394.60h0M168.90 395.62h0M169.57 398.34h0M170.35 398.71h0M170.92 399.05h0M171.82 398.22h0M172.46 398.94h0M173.12 399.54h0M173.72 399.76h0M174.56 400.00h0M175.29 400.34h0M175.95 399.72h0M176.68 401.76h0M177.15 401.75h0M178.03 404.12h0M178.76 403.97h0M179.35 403.64h0M179.93 404.37h0M180.76 403.40h0M181.37 402.88h0M182.01 404.53h0M182.96 404.94h0M183.63 405.22h0M184.27 404.85h0M185.00 405.74h0M185.68 405.06h0M186.31 405.39h0M186.92 405.54h0M187.66 405.38h0M188.42 406.31h0M189.14 406.41h0M189.75 405.07h0M190.40 406.96h0M191.16 406.37h0M191.81 407.24h0M192.72 407.96h0M193.22 408.09h0M193.96 408.61h0M194.70 408.01h0M195.32 408.73h0M196.08 408.73h0M196.79 407.34h0M197.35 408.74h0M198.30 407.74h0M198.88 408.68h0M199.47 408.24h0M200.40 409.81h0M200.87 409.19h0M201.72 407.00h0M202.35 408.82h0M202.99 408.77h0M203.72 409.63h0M204.44 409.16h0M205.11 411.18h0M205.77 411.00h0M206.51 409.91h0M207.22 409.65h0M207.98 410.93h0M208.54 410.81h0M209.20 411.07h0M210.12 411.04h0M210.60 412.06h0M211.45 412.40h0M212.13 411.22h0M212.94 412.89h0M213.42 412.24h0M214.31 412.06h0M214.80 412.49h0M215.51 411.36h0M216.34 412.11h0M216.90 411.83h0M217.71 412.81h0M218.44 412.64h0M218.98 411.52h0M219.86 411.76h0M220.46 412.60h0M221.31 411.91h0M221.74 412.13h0M222.45 412.23h0M223.30 410.96h0M223.90 412.91h0M224.63 412.20h0" stroke="#ff0000" stroke-width="2.00" stroke-linecap="round"/>
<rect x="29.50" y="252.90" width="209.10" height="165.10" fill="none" stroke="#858585" stroke-width="1.00"/>
<path d="M29.50 418.00v-2.00M29.50 252.90v2.00M64.35 418.00v-2.00M64.35 252.90v2.00M99.20 418.00v-2.00M99.20 252.90v2.00M134.05 418.00v-2.00M134.05 252.90v2.00M168.90 418.00v-2.00M168.90 252.90v2.00M203.75 418.00v-2.00M203.75 252.90v2.00M238.60 418.00v-2.00M238.60 252.90v2.00M29.50 418.00h2.00M238.60 418.00h-2.00M29.50 394.41h2.00M238.60 394.41h-2.00M29.50 370.83h2.00M238.60 370.83h-2.00M29.50 347.24h2.00M238.60 347.24h-2.00M29.50 323.66h2.00M238.60 323.66h-2.00M29.50 300.07h2.00M238.60 300.07h-2.00M29.50 276.49h2.00M238.60 276.49h-2.00M29.50 252.90h2.00M238.60 252.90h-2.00" stroke="#858585" stroke-width="1.00" fill="none"/>
<text class="tk" x="29.50" y="427.10" text-anchor="middle">0</text>
<text class="tk" x="64.35" y="427.10" text-anchor="middle">5</text>
<text class="tk" x="99.20" y="427.10" text-anchor="middle">10</text>
<text class="tk" x="134.05" y="427.10" text-anchor="middle">15</text>
<text class="tk" x="168.90" y="427.10" text-anchor="middle">20</text>
<text class="tk" x="203.75" y="427.10" text-anchor="middle">25</text>
<text class="tk" x="238.60" y="427.10" text-anchor="middle">30</text>
<text class="tk" x="27.10" y="420.40" text-anchor="end">−1.5</text>
<text class="tk" x="27.10" y="396.81" text-anchor="end">−1</text>
<text class="tk" x="27.10" y="373.23" text-anchor="end">−0.5</text>
<text class="tk" x="27.10" y="349.64" text-anchor="end">0</text>
<text class="tk" x="27.10" y="326.06" text-anchor="end">0.5</text>
<text class="tk" x="27.10" y="302.47" text-anchor="end">1</text>
<text class="tk" x="27.10" y="278.89" text-anchor="end">1.5</text>
<text class="tk" x="27.10" y="255.30" text-anchor="end">2</text>
<text class="ti" x="134.05" y="250.50" text-anchor="middle">fitting effect - <tspan class="it sy">ϕ</tspan></text>
<text class="xl" x="134.05" y="437.00" text-anchor="middle" textLength="116.5" lengthAdjust="spacingAndGlyphs">spatial sampling point x coordinate/m</text>
<text class="xl yl" transform="translate(10.10 335.85) rotate(-90)" text-anchor="middle"><tspan class="it">ϕ</tspan> /rad</text>
<rect x="172.60" y="257.90" width="60.80" height="17.00" fill="#fff" stroke="#858585" stroke-width="1.00"/>
<path d="M174.60 262.83H194.10" stroke="#0000ff" stroke-width="2.00"/>
<circle cx="184.40" cy="270.14" r="0.90" fill="#ff0000"/>
<text class="lg" x="195.40" y="265.03" textLength="29" lengthAdjust="spacingAndGlyphs">fitting curve</text>
<text class="lg" x="195.40" y="272.34" textLength="31" lengthAdjust="spacingAndGlyphs">DOA results</text>
<text class="lg it" x="229.20" y="265.03" text-anchor="middle">ϕ</text>
<text class="lg it" x="229.20" y="272.34" text-anchor="middle">ϕ</text>
<text class="cap" x="129.50" y="460.60" text-anchor="middle">(<tspan font-weight="bold">c</tspan>)</text></g>
<g><path d="M340.57 255.86 L341.05 255.95 L341.52 256.05 L341.99 256.14 L342.46 256.23 L342.93 256.33 L343.40 256.42 L343.88 256.52 L344.35 256.61 L344.82 256.71 L345.29 256.81 L345.76 256.91 L346.24 257.01 L346.71 257.11 L347.18 257.21 L347.65 257.31 L348.12 257.41 L348.60 257.52 L349.07 257.62 L349.54 257.73 L350.01 257.84 L350.48 257.95 L350.95 258.06 L351.43 258.17 L351.90 258.28 L352.37 258.39 L352.84 258.50 L353.31 258.62 L353.79 258.73 L354.26 258.85 L354.73 258.97 L355.20 259.08 L355.67 259.20 L356.15 259.33 L356.62 259.45 L357.09 259.57 L357.56 259.70 L358.03 259.82 L358.50 259.95 L358.98 260.08 L359.45 260.21 L359.92 260.34 L360.39 260.47 L360.86 260.60 L361.34 260.74 L361.81 260.88 L362.28 261.01 L362.75 261.15 L363.22 261.29 L363.70 261.44 L364.17 261.58 L364.64 261.72 L365.11 261.87 L365.58 262.02 L366.05 262.17 L366.53 262.32 L367.00 262.47 L367.47 262.63 L367.94 262.78 L368.41 262.94 L368.89 263.10 L369.36 263.26 L369.83 263.43 L370.30 263.59 L370.77 263.76 L371.25 263.93 L371.72 264.10 L372.19 264.27 L372.66 264.45 L373.13 264.63 L373.60 264.80 L374.08 264.99 L374.55 265.17 L375.02 265.35 L375.49 265.54 L375.96 265.73 L376.44 265.92 L376.91 266.12 L377.38 266.32 L377.85 266.52 L378.32 266.72 L378.80 266.92 L379.27 267.13 L379.74 267.34 L380.21 267.55 L380.68 267.77 L381.15 267.98 L381.63 268.20 L382.10 268.43 L382.57 268.65 L383.04 268.88 L383.51 269.12 L383.99 269.35 L384.46 269.59 L384.93 269.83 L385.40 270.08 L385.87 270.33 L386.35 270.58 L386.82 270.83 L387.29 271.09 L387.76 271.35 L388.23 271.62 L388.71 271.89 L389.18 272.16 L389.65 272.44 L390.12 272.72 L390.59 273.01 L391.06 273.30 L391.54 273.60 L392.01 273.89 L392.48 274.20 L392.95 274.51 L393.42 274.82 L393.90 275.14 L394.37 275.46 L394.84 275.78 L395.31 276.12 L395.78 276.45 L396.26 276.80 L396.73 277.15 L397.20 277.50 L397.67 277.86 L398.14 278.23 L398.61 278.60 L399.09 278.98 L399.56 279.36 L400.03 279.75 L400.50 280.15 L400.97 280.55 L401.45 280.96 L401.92 281.38 L402.39 281.81 L402.86 282.24 L403.33 282.68 L403.81 283.13 L404.28 283.59 L404.75 284.05 L405.22 284.52 L405.69 285.01 L406.16 285.50 L406.64 286.00 L407.11 286.51 L407.58 287.03 L408.05 287.56 L408.52 288.09 L409.00 288.64 L409.47 289.21 L409.94 289.78 L410.41 290.36 L410.88 290.96 L411.36 291.56 L411.83 292.18 L412.30 292.82 L412.77 293.46 L413.24 294.12 L413.71 294.79 L414.19 295.48 L414.66 296.18 L415.13 296.90 L415.60 297.63 L416.07 298.38 L416.55 299.15 L417.02 299.93 L417.49 300.73 L417.96 301.55 L418.43 302.38 L418.91 303.24 L419.38 304.11 L419.85 305.01 L420.32 305.92 L420.79 306.86 L421.26 307.82 L421.74 308.81 L422.21 309.81 L422.68 310.84 L423.15 311.90 L423.62 312.98 L424.10 314.09 L424.57 315.22 L425.04 316.39 L425.51 317.58 L425.98 318.80 L426.46 320.05 L426.93 321.33 L427.40 322.65 L427.87 323.99 L428.34 325.37 L428.81 326.79 L429.29 328.23 L429.76 329.72 L430.23 331.24 L430.70 332.79 L431.17 334.39 L431.65 336.01 L432.12 337.68 L432.59 339.39 L433.06 341.13 L433.53 342.91 L434.01 344.72 L434.48 346.57 L434.95 348.46 L435.42 350.38 L435.89 352.34 L436.36 354.32 L436.84 356.34 L437.31 358.38 L437.78 360.44 L438.25 362.52 L438.72 364.62 L439.20 366.72 L439.67 368.83 L440.14 370.94 L440.61 373.04 L441.08 375.12 L441.56 377.19 L442.03 379.22 L442.50 381.20 L442.97 383.14 L443.44 385.03 L443.91 386.84 L444.39 388.57 L444.86 390.22 L445.33 391.77 L445.80 393.22 L446.27 394.55 L446.75 395.77 L447.22 396.87 L447.69 397.84 L448.16 398.69 L448.63 399.41 L449.11 400.00 L449.58 400.48 L450.05 400.84 L450.52 401.10 L450.99 401.26 L451.47 401.34 L451.94 401.37 L452.41 401.36 L452.88 401.30 L453.35 401.18 L453.82 400.96 L454.30 400.64 L454.77 400.21 L455.24 399.67 L455.71 399.00 L456.18 398.21 L456.66 397.29 L457.13 396.24 L457.60 395.07 L458.07 393.79 L458.54 392.38 L459.02 390.88 L459.49 389.27 L459.96 387.57 L460.43 385.79 L460.90 383.93 L461.37 382.02 L461.85 380.05 L462.32 378.03 L462.79 375.99 L463.26 373.91 L463.73 371.81 L464.21 369.71 L464.68 367.60 L465.15 365.49 L465.62 363.39 L466.09 361.30 L466.57 359.23 L467.04 357.18 L467.51 355.16 L467.98 353.16 L468.45 351.19 L468.92 349.26 L469.40 347.36 L469.87 345.49 L470.34 343.66 L470.81 341.86 L471.28 340.11 L471.76 338.39 L472.23 336.70 L472.70 335.06 L473.17 333.45 L473.64 331.88 L474.12 330.35 L474.59 328.85 L475.06 327.39 L475.53 325.96 L476.00 324.56 L476.47 323.20 L476.95 321.88 L477.42 320.58 L477.89 319.32 L478.36 318.08 L478.83 316.88 L479.31 315.70 L479.78 314.56 L480.25 313.44 L480.72 312.35 L481.19 311.28 L481.67 310.24 L482.14 309.22 L482.61 308.23 L483.08 307.26 L483.55 306.31 L484.02 305.39 L484.50 304.48 L484.97 303.60 L485.44 302.74 L485.91 301.89 L486.38 301.07 L486.86 300.26 L487.33 299.47 L487.80 298.70 L488.27 297.94 L488.74 297.20 L489.22 296.48 L489.69 295.77 L490.16 295.08 L490.63 294.40 L491.10 293.73 L491.57 293.08 L492.05 292.44 L492.52 291.82 L492.99 291.21 L493.46 290.61 L493.93 290.02 L494.41 289.44 L494.88 288.88 L495.35 288.32 L495.82 287.78 L496.29 287.24 L496.77 286.72 L497.24 286.21 L497.71 285.70 L498.18 285.21 L498.65 284.72 L499.12 284.25 L499.60 283.78 L500.07 283.32 L500.54 282.87 L501.01 282.42 L501.48 281.99 L501.96 281.56 L502.43 281.14 L502.90 280.72 L503.37 280.32 L503.84 279.91 L504.32 279.52 L504.79 279.13 L505.26 278.75 L505.73 278.38 L506.20 278.01 L506.67 277.65 L507.15 277.29 L507.62 276.94 L508.09 276.60 L508.56 276.26 L509.03 275.92 L509.51 275.59 L509.98 275.27 L510.45 274.95 L510.92 274.63 L511.39 274.32 L511.87 274.02 L512.34 273.72 L512.81 273.42 L513.28 273.13 L513.75 272.84 L514.23 272.56 L514.70 272.28 L515.17 272.00 L515.64 271.73 L516.11 271.46 L516.58 271.20 L517.06 270.94 L517.53 270.68 L518.00 270.43 L518.47 270.18 L518.94 269.93 L519.42 269.69 L519.89 269.45 L520.36 269.21 L520.83 268.98 L521.30 268.75 L521.78 268.52 L522.25 268.30 L522.72 268.08 L523.19 267.86 L523.66 267.64 L524.13 267.43 L524.61 267.22 L525.08 267.01 L525.55 266.80 L526.02 266.60 L526.49 266.40 L526.97 266.20 L527.44 266.01 L527.91 265.81 L528.38 265.62 L528.85 265.43" fill="none" stroke="#0000ff" stroke-width="2.00" stroke-linejoin="round"/>
<path d="M340.55 255.47h0M341.74 256.68h0M342.56 254.66h0M343.84 258.43h0M344.80 255.91h0M345.84 257.35h0M346.71 258.68h0M347.93 257.72h0M349.03 258.20h0M349.96 256.78h0M350.91 260.23h0M351.98 258.67h0M353.01 259.28h0M354.15 256.73h0M355.31 260.77h0M356.14 257.95h0M357.28 262.18h0M358.33 259.52h0M359.37 260.48h0M360.45 260.06h0M361.50 261.87h0M362.46 263.89h0M363.67 263.69h0M364.64 260.00h0M365.64 261.85h0M366.85 263.74h0M367.83 261.60h0M368.72 264.20h0M369.99 264.63h0M370.93 265.62h0M371.91 262.64h0M372.93 261.93h0M373.92 266.39h0M375.02 265.07h0M376.08 264.54h0M377.14 263.39h0M378.37 270.21h0M379.30 267.07h0M380.24 266.79h0M381.33 270.26h0M382.39 268.13h0M383.34 268.88h0M384.50 268.73h0M385.55 271.10h0M386.71 270.32h0M387.62 272.25h0M388.74 271.20h0M389.79 272.43h0M390.69 273.73h0M391.85 275.90h0M392.86 272.28h0M393.83 273.67h0M394.83 274.68h0M396.15 277.78h0M396.94 277.93h0M398.21 276.08h0M399.11 278.09h0M400.08 281.11h0M401.37 280.96h0M402.33 281.69h0M403.31 283.06h0M404.47 285.23h0M405.48 283.17h0M406.45 285.10h0M407.58 287.43h0M408.63 290.54h0M409.52 290.21h0M410.72 290.87h0M411.82 291.08h0M412.80 294.14h0M413.88 293.60h0M414.98 296.59h0M415.97 299.37h0M416.92 303.78h0M417.99 303.36h0M419.10 305.79h0M420.11 305.83h0M421.00 306.92h0M422.04 307.62h0M423.14 312.01h0M424.34 316.40h0M425.22 313.67h0M426.29 319.29h0M427.48 323.35h0M428.33 325.82h0M429.42 330.65h0M430.46 331.21h0M431.45 334.91h0M432.69 337.63h0M433.62 341.79h0M434.69 346.30h0M435.71 349.93h0M436.68 356.18h0M437.95 361.89h0M438.80 365.10h0M439.88 371.63h0M441.05 375.27h0M441.99 379.62h0M443.08 382.75h0M444.08 387.56h0M445.19 394.07h0M446.17 394.30h0M447.25 395.05h0M448.17 401.35h0M449.22 401.27h0M450.41 401.10h0M451.54 403.28h0M452.63 402.19h0M453.63 401.06h0M454.59 402.30h0M455.67 398.72h0M456.73 396.64h0M457.79 396.41h0M458.91 391.26h0M459.77 386.81h0M460.85 384.46h0M461.99 378.91h0M462.88 374.78h0M463.89 371.52h0M465.16 364.14h0M465.96 361.42h0M467.25 357.71h0M468.30 351.15h0M469.14 347.24h0M470.35 342.56h0M471.26 341.13h0M472.31 335.84h0M473.55 330.32h0M474.57 328.63h0M475.58 324.20h0M476.54 321.26h0M477.73 319.83h0M478.66 316.43h0M479.83 314.89h0M480.80 310.72h0M481.66 310.42h0M482.91 308.41h0M483.97 305.57h0M485.03 303.63h0M486.00 301.24h0M486.88 299.60h0M488.16 299.78h0M489.08 297.62h0M490.07 294.74h0M491.12 293.08h0M492.16 292.20h0M493.38 287.07h0M494.22 288.14h0M495.50 288.28h0M496.29 286.25h0M497.54 284.04h0M498.44 284.45h0M499.57 286.26h0M500.52 282.76h0M501.77 281.67h0M502.61 278.01h0M503.74 282.58h0M504.83 276.95h0M505.83 278.53h0M506.81 276.25h0M507.87 277.16h0M509.10 275.63h0M509.92 273.73h0M510.94 274.50h0M512.23 272.31h0M513.27 273.24h0M514.26 273.10h0M515.25 272.26h0M516.43 271.98h0M517.32 270.95h0M518.26 268.38h0M519.42 271.31h0M520.49 271.45h0M521.54 268.64h0M522.69 265.72h0M523.50 266.23h0M524.77 265.28h0M525.72 264.96h0M526.83 267.26h0M527.78 265.68h0M528.80 269.15h0" stroke="#ff0000" stroke-width="2.20" stroke-linecap="round"/>
<rect x="333.60" y="252.70" width="209.20" height="165.30" fill="none" stroke="#858585" stroke-width="1.00"/>
<path d="M333.60 418.00v-2.00M333.60 252.70v2.00M368.47 418.00v-2.00M368.47 252.70v2.00M403.33 418.00v-2.00M403.33 252.70v2.00M438.20 418.00v-2.00M438.20 252.70v2.00M473.07 418.00v-2.00M473.07 252.70v2.00M507.93 418.00v-2.00M507.93 252.70v2.00M542.80 418.00v-2.00M542.80 252.70v2.00M333.60 418.00h2.00M542.80 418.00h-2.00M333.60 399.63h2.00M542.80 399.63h-2.00M333.60 381.27h2.00M542.80 381.27h-2.00M333.60 362.90h2.00M542.80 362.90h-2.00M333.60 344.53h2.00M542.80 344.53h-2.00M333.60 326.17h2.00M542.80 326.17h-2.00M333.60 307.80h2.00M542.80 307.80h-2.00M333.60 289.43h2.00M542.80 289.43h-2.00M333.60 271.07h2.00M542.80 271.07h-2.00M333.60 252.70h2.00M542.80 252.70h-2.00" stroke="#858585" stroke-width="1.00" fill="none"/>
<text class="tk" x="333.60" y="427.10" text-anchor="middle">0</text>
<text class="tk" x="368.47" y="427.10" text-anchor="middle">5</text>
<text class="tk" x="403.33" y="427.10" text-anchor="middle">10</text>
<text class="tk" x="438.20" y="427.10" text-anchor="middle">15</text>
<text class="tk" x="473.07" y="427.10" text-anchor="middle">20</text>
<text class="tk" x="507.93" y="427.10" text-anchor="middle">25</text>
<text class="tk" x="542.80" y="427.10" text-anchor="middle">30</text>
<text class="tk" x="331.20" y="420.40" text-anchor="end">−0.5</text>
<text class="tk" x="331.20" y="402.03" text-anchor="end">−0.45</text>
<text class="tk" x="331.20" y="383.67" text-anchor="end">−0.4</text>
<text class="tk" x="331.20" y="365.30" text-anchor="end">−0.35</text>
<text class="tk" x="331.20" y="346.93" text-anchor="end">−0.3</text>
<text class="tk" x="331.20" y="328.57" text-anchor="end">−0.25</text>
<text class="tk" x="331.20" y="310.20" text-anchor="end">−0.2</text>
<text class="tk" x="331.20" y="291.83" text-anchor="end">−0.15</text>
<text class="tk" x="331.20" y="273.47" text-anchor="end">−0.1</text>
<text class="tk" x="331.20" y="255.10" text-anchor="end">−0.05</text>
<text class="ti" x="438.20" y="250.30" text-anchor="middle">fitting effect - <tspan class="it sy">θ</tspan></text>
<text class="xl" x="438.20" y="437.00" text-anchor="middle" textLength="116.5" lengthAdjust="spacingAndGlyphs">spatial sampling point x coordinate/m</text>
<text class="xl yl" transform="translate(311.00 335.75) rotate(-90)" text-anchor="middle"><tspan class="it">θ</tspan> /rad</text>
<rect x="438.80" y="257.40" width="60.50" height="16.60" fill="#fff" stroke="#858585" stroke-width="1.00"/>
<path d="M440.80 262.21H460.30" stroke="#0000ff" stroke-width="2.00"/>
<circle cx="450.60" cy="269.35" r="0.90" fill="#ff0000"/>
<text class="lg" x="461.60" y="264.41" textLength="29" lengthAdjust="spacingAndGlyphs">fitting curve</text>
<text class="lg" x="461.60" y="271.55" textLength="31" lengthAdjust="spacingAndGlyphs">DOA results</text>
<text class="lg it" x="495.10" y="264.41" text-anchor="middle">θ</text>
<text class="lg it" x="495.10" y="271.55" text-anchor="middle">θ</text>
<text class="cap" x="433.50" y="460.60" text-anchor="middle">(<tspan font-weight="bold">d</tspan>)</text></g>
</g>
</svg>
</body></html>
